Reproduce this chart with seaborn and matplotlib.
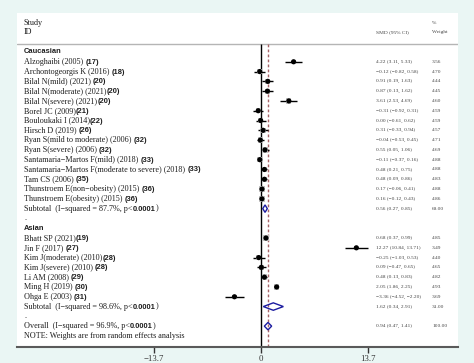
import matplotlib
matplotlib.use("Agg")
import matplotlib.pyplot as plt
import matplotlib.transforms as mtransforms
import seaborn as sns
import pandas as pd

# Caucasian studies
cau_names = ["Alzoghaibi (2005) ", "Archontogeorgis K (2016) ", "Bilal N(mild) (2021) ",
             "Bilal N(moderate) (2021)", "Bilal N(severe) (2021)", "Borel JC (2009)",
             "Bouloukaki I (2014)", "Hirsch D (2019) ", "Ryan S(mild to moderate) (2006) ",
             "Ryan S(severe) (2006) ", "Santamaria\u2212Martos F(mild) (2018) ",
             "Santamaria\u2212Martos F(moderate to severe) (2018) ", "Tam CS (2006) ",
             "Thunstroem E(non\u2212obesity) (2015) ", "Thunstroem E(obesity) (2015) "]
cau_refs = ["(17)", "(18)", "(20)", "(20)", "(20)", "(21)", "(22)", "(26)", "(32)",
            "(32)", "(33)", "(33)", "(35)", "(36)", "(36)"]
cau_est = [4.22, -0.12, 0.91, 0.87, 3.61, -0.31, 0.00, 0.31, -0.04, 0.55, -0.11, 0.48, 0.48, 0.17, 0.16]
cau_lo = [3.11, -0.82, 0.19, 0.13, 2.53, -0.92, -0.61, -0.33, -0.53, 0.05, -0.37, 0.21, 0.09, -0.06, -0.12]
cau_hi = [5.33, 0.58, 1.63, 1.62, 4.69, 0.31, 0.62, 0.94, 0.45, 1.06, 0.16, 0.75, 0.86, 0.41, 0.43]
cau_wt = [3.56, 4.70, 4.44, 4.45, 4.60, 4.59, 4.59, 4.57, 4.71, 4.69, 4.88, 4.88, 4.83, 4.88, 4.86]
cau_sub = (0.56, 0.27, 0.85, 69.00, "87.7%")

# Asian studies
asi_names = ["Bhatt SP (2021)", "Jin F (2017) ", "Kim J(moderate) (2010)", "Kim J(severe) (2010) ",
             "Li AM (2008) ", "Ming H (2019) ", "Ohga E (2003) "]
asi_refs = ["(19)", "(27)", "(28)", "(28)", "(29)", "(30)", "(31)"]
asi_est = [0.68, 12.27, -0.25, 0.09, 0.48, 2.05, -3.36]
asi_lo = [0.37, 10.84, -1.03, -0.47, 0.13, 1.86, -4.52]
asi_hi = [0.99, 13.71, 0.53, 0.65, 0.83, 2.25, -2.20]
asi_wt = [4.85, 3.49, 4.40, 4.65, 4.82, 4.93, 3.69]
asi_sub = (1.62, 0.34, 2.91, 31.00, "98.6%")

overall = (0.94, 0.47, 1.41, 100.00, "96.9%")
xticks = [-13.7, 0, 13.7]
xtick_labels = ["\u221213.7", "0", "13.7"]

# row layout
cau_rows = list(range(1, 1 + len(cau_names)))
cau_sub_row = cau_rows[-1] + 1
asi_head_row = cau_sub_row + 2
asi_rows = list(range(asi_head_row + 1, asi_head_row + 1 + len(asi_names)))
asi_sub_row = asi_rows[-1] + 1
overall_row = asi_sub_row + 2
note_row = overall_row + 1

studies = pd.DataFrame({
    "name": cau_names + asi_names,
    "ref": cau_refs + asi_refs,
    "est": cau_est + asi_est,
    "lo": cau_lo + asi_lo,
    "hi": cau_hi + asi_hi,
    "wt": cau_wt + asi_wt,
    "row": cau_rows + asi_rows,
})


def fmt(v):
    return f"{v:.2f}".replace("-", "\u2212")


def ci_text(e, lo, hi):
    return f"{fmt(e)} ({fmt(lo)}, {fmt(hi)})"


sns.set_theme(style="white")
plt.rcParams["font.family"] = ["Liberation Serif", "DejaVu Serif"]

fig = plt.figure(figsize=(4.74, 3.63), dpi=100)
fig.patch.set_facecolor("#eaf6f4")
ax = fig.add_axes([17 / 474, 16 / 363, 441 / 474, 334 / 363])
ax.set_facecolor("white")

xmin, xmax = -31.24, 25.3
ytop, ybot = -3.98, 30.13
head_line = -0.85

# reference lines
ax.axhline(head_line, color="#b5b5b5", lw=1)
ax.vlines(0, head_line, ybot, color="black", lw=1)
ax.vlines(overall[0], head_line, ybot, color="#a86468", lw=1, linestyles=(0, (2, 1.6)))

# confidence intervals and points
ax.hlines(studies["row"], studies["lo"], studies["hi"], color="black", lw=1)
sns.scatterplot(data=studies, x="est", y="row", marker="s", size="wt", sizes=(8, 16),
                color="#c4c4c4", edgecolor="none", legend=False, ax=ax, zorder=3)
sns.scatterplot(data=studies, x="est", y="row", s=14, color="black", edgecolor="none",
                legend=False, ax=ax, zorder=4)

# pooled diamonds
for (e, lo, hi, w, i2), row in [(cau_sub, cau_sub_row), (asi_sub, asi_sub_row), (overall, overall_row)]:
    ax.fill([lo, e, hi, e, lo], [row, row - 0.38, row, row + 0.38, row],
            facecolor="none", edgecolor="#1c1ca0", lw=1, zorder=4)

ax.set_xlim(xmin, xmax)
ax.set_ylim(ybot, ytop)
ax.set_xlabel("")
ax.set_ylabel("")
ax.set_yticks([])
ax.set_xticks(xticks)
ax.set_xticklabels(xtick_labels, fontsize=6.3, color="#333333")
ax.tick_params(axis="x", direction="out", length=4, width=1, color="#333333", pad=2, bottom=True)
for s in ["top", "left", "right"]:
    ax.spines[s].set_visible(False)
ax.spines["bottom"].set_color("#5a5a5a")
ax.spines["bottom"].set_linewidth(1.5)

# text columns
tr = mtransforms.blended_transform_factory(ax.transAxes, ax.transData)
lab_x = 7 / 441
smd_x = 359 / 441
wt_x = 415 / 441
fs = 5.9
fs_small = 3.9
txt_col = "#1e1e1e"


def label(row, parts):
    prev = None
    for txt, bold in parts:
        if bold:
            kw = dict(family=["Liberation Sans", "DejaVu Sans"], weight="bold", fontsize=fs - 0.5)
        else:
            kw = dict(family=["Liberation Serif", "DejaVu Serif"], fontsize=fs)
        if prev is None:
            prev = ax.text(lab_x, row, txt, transform=tr, ha="left", va="center", color=txt_col, **kw)
        else:
            prev = ax.annotate(txt, xy=(1, 0), xycoords=prev, ha="left", va="bottom",
                               color=txt_col, **kw)


def right_cols(row, e, lo, hi, w):
    ax.text(smd_x, row, ci_text(e, lo, hi), transform=tr, ha="left", va="center",
            fontsize=fs_small, color="#444444")
    ax.text(wt_x, row, f"{w:.2f}", transform=tr, ha="left", va="center",
            fontsize=fs_small, color="#444444")


label(-3, [("Study", False)])
label(-2, [("ID", False)])
ax.text(smd_x, -2, "SMD (95% CI)", transform=tr, ha="left", va="center", fontsize=fs_small, color="#444444")
ax.text(wt_x, -3, "%", transform=tr, ha="left", va="center", fontsize=fs_small, color="#444444")
ax.text(wt_x, -2, "Weight", transform=tr, ha="left", va="center", fontsize=fs_small, color="#444444")

label(0, [("Caucasian", True)])
label(asi_head_row, [("Asian", True)])

for _, r in studies.iterrows():
    label(r["row"], [(r["name"], False), (r["ref"], True)])
    right_cols(r["row"], r["est"], r["lo"], r["hi"], r["wt"])

for (e, lo, hi, w, i2), row, word in [(cau_sub, cau_sub_row, "Subtotal"),
                                      (asi_sub, asi_sub_row, "Subtotal"),
                                      (overall, overall_row, "Overall")]:
    label(row, [(f"{word}  (I\u2212squared = {i2}, p<", False), ("0.0001", True), (")", False)])
    right_cols(row, e, lo, hi, w)

label(cau_sub_row + 1, [(".", False)])
label(asi_sub_row + 1, [(".", False)])
label(note_row, [("NOTE: Weights are from random effects analysis", False)])

fig.savefig("out.png", dpi=100, facecolor=fig.get_facecolor())
